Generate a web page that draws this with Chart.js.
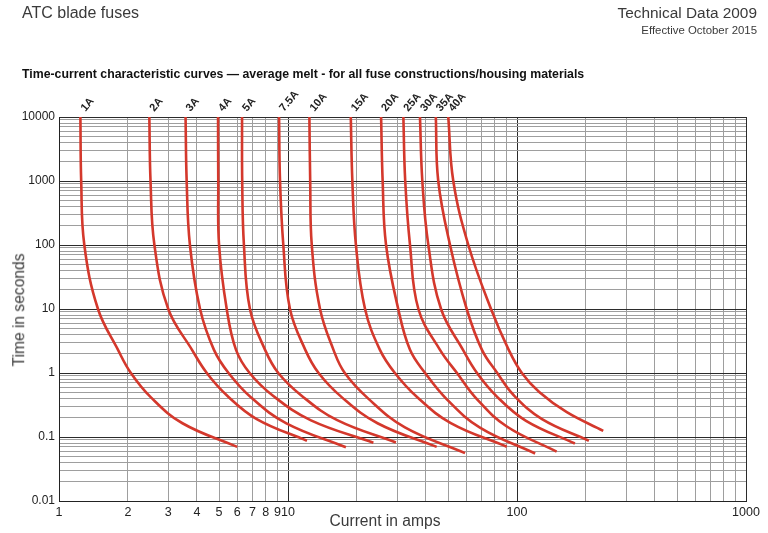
<!DOCTYPE html>
<html>
<head>
<meta charset="utf-8">
<title>ATC blade fuses - time-current curves</title>
<script src="https://cdn.jsdelivr.net/npm/chart.js@4.4.1/dist/chart.umd.min.js"></script>
<style>
  html, body { margin: 0; padding: 0; background: #fff; }
  #wrap { position: relative; width: 768px; height: 533px; overflow: hidden; }
  #chart { position: absolute; left: 0; top: 0; }
  .txt { position: absolute; white-space: nowrap; line-height: 1; color: #3a3a3a;
         font-family: "Liberation Sans", Arial, sans-serif; }
</style>
</head>
<body>
<div id="wrap">
  <canvas id="chart" width="768" height="533"></canvas>
  <div class="txt" style="left:22px; top:5px; font-size:16px;">ATC blade fuses</div>
  <div class="txt" style="right:11px; top:5px; font-size:15.4px;">Technical Data 2009</div>
  <div class="txt" style="right:11px; top:25px; font-size:11.4px;">Effective October 2015</div>
  <div class="txt" style="left:22px; top:68px; font-size:12.3px; font-weight:bold; color:#111;">Time-current characteristic curves — average melt - for all fuse constructions/housing materials</div>
  <div class="txt" style="left:385px; top:513px; font-size:15.6px; transform:translateX(-50%);">Current in amps</div>
  <div class="txt" style="left:19px; top:310px; font-size:15.6px; transform:translate(-50%,-50%) rotate(-90deg);">Time in seconds</div>
</div>
<script>
// fuse ratings, one curve each
const ratings = ["1A", "2A", "3A", "4A", "5A", "7.5A", "10A", "15A", "20A", "25A", "30A", "35A", "40A"];

// average melt current (A), one row per rating
const meltAmps = [
  [1.24, 1.25, 1.29, 1.48, 1.81, 2.06, 2.52, 3.46, 6.0],
  [2.48, 2.51, 2.61, 3.0, 3.81, 4.42, 5.4, 7.3, 12.1],
  [3.57, 3.61, 3.73, 4.13, 4.75, 5.5, 6.9, 9.84, 17.9],
  [4.95, 4.96, 5.0, 5.4, 5.93, 6.8, 8.63, 12.6, 23.6],
  [6.3, 6.31, 6.42, 6.82, 7.94, 9.07, 11.5, 16.4, 29.6],
  [9.14, 9.23, 9.54, 10.2, 11.9, 13.6, 17.2, 24.6, 44.6],
  [12.4, 12.5, 12.7, 13.8, 15.8, 17.7, 22.6, 32.4, 59.3],
  [18.8, 19.1, 19.8, 21.7, 25.2, 29.3, 36.7, 51.4, 90.2],
  [25.5, 25.9, 26.8, 30.3, 34.1, 39.7, 49.5, 68.9, 120],
  [31.9, 32.5, 34.1, 37.1, 46.1, 54.7, 66.8, 90.3, 149],
  [37.7, 38.6, 41.0, 46.6, 58.1, 66.9, 81.5, 109.5, 179],
  [44.2, 45.3, 51.0, 60.3, 70.3, 82, 96.8, 128.6, 206],
  [50.1, 52.7, 61.3, 77, 92, 105, 125, 165, 238]
];

// matching melt times (s)
const meltSecs = [
  [10000, 1000, 100, 10, 2.3, 1, 0.416, 0.164, 0.07],
  [10000, 1000, 100, 10, 2.3, 1, 0.449, 0.191, 0.0875],
  [10000, 1000, 100, 10, 2.3, 1, 0.414, 0.163, 0.069],
  [10000, 1000, 100, 10, 2.3, 1, 0.437, 0.182, 0.0815],
  [10000, 1000, 100, 10, 2.3, 1, 0.438, 0.183, 0.082],
  [10000, 1000, 100, 10, 2.3, 1, 0.416, 0.164, 0.07],
  [10000, 1000, 100, 10, 2.3, 1, 0.387, 0.141, 0.056],
  [10000, 1000, 100, 10, 2.3, 1, 0.417, 0.165, 0.0705],
  [10000, 1000, 100, 10, 2.3, 1, 0.384, 0.14, 0.0552],
  [10000, 1000, 100, 10, 2.3, 1, 0.392, 0.146, 0.059],
  [10000, 1000, 100, 10, 2.3, 1, 0.432, 0.179, 0.079],
  [10000, 1000, 100, 10, 2.3, 1, 0.449, 0.191, 0.0875],
  [10000, 1000, 100, 10, 2.3, 1, 0.505, 0.244, 0.125]
];

// labelled ticks
const xTickLabels = [1, 2, 3, 4, 5, 6, 7, 8, 9, 10, 100, 1000];
const yTickLabels = [0.01, 0.1, 1, 10, 100, 1000, 10000];

const fontFamily = '"Liberation Sans", Arial, sans-serif';

// 1..9 lines in every decade
function logGrid(min, max) {
  const vals = [];
  for (let d = min; d < max * 0.999; d *= 10) {
    for (let m = 1; m < 10; m++) vals.push(+(m * d).toPrecision(3));
  }
  vals.push(max);
  return vals;
}

function isDecade(v) {
  const l = Math.log10(v);
  return Math.abs(l - Math.round(l)) < 1e-6;
}

function gridColor(c) {
  return c.tick && isDecade(c.tick.value) ? "#2b2b2b" : "#9e9e9e";
}

const curveLabels = {
  id: "curveLabels",
  afterDatasetsDraw(chart) {
    const { ctx } = chart;
    const x = chart.scales.x;
    const top = chart.chartArea.top;
    ctx.save();
    ctx.font = "bold 11px " + fontFamily;
    ctx.fillStyle = "#222";
    ctx.textAlign = "left";
    ctx.textBaseline = "alphabetic";
    ratings.forEach((r, i) => {
      const px = x.getPixelForValue(meltAmps[i][0]);
      ctx.save();
      ctx.translate(px + 5, top - 5);
      ctx.rotate(-50 * Math.PI / 180);
      ctx.fillText(r, 0, 0);
      ctx.restore();
    });
    ctx.restore();
  }
};

new Chart(document.getElementById("chart"), {
  type: "line",
  data: {
    datasets: ratings.map((r, i) => ({
      label: r,
      data: meltAmps[i].map((a, j) => ({ x: a, y: meltSecs[i][j] })),
      borderColor: "#d4382c",
      borderWidth: 2.6,
      pointRadius: 0,
      fill: false,
      tension: 0.4
    }))
  },
  options: {
    responsive: false,
    animation: false,
    devicePixelRatio: 1,
    layout: { padding: { left: 0, top: 117, right: 22, bottom: 0 } },
    plugins: { legend: { display: false }, tooltip: { enabled: false }, title: { display: false } },
    scales: {
      x: {
        type: "logarithmic",
        min: 1,
        max: 1000,
        afterBuildTicks: (s) => { s.ticks = logGrid(1, 1000).map((v) => ({ value: v })); },
        afterFit: (s) => { s.height = 32; },
        border: { color: "#222", width: 1 },
        grid: { color: gridColor, lineWidth: 1, drawTicks: false },
        ticks: {
          autoSkip: false,
          maxRotation: 0,
          padding: 4,
          color: "#222",
          font: { family: fontFamily, size: 12.5 },
          callback: (v) => (xTickLabels.includes(v) ? String(v) : "")
        }
      },
      y: {
        type: "logarithmic",
        min: 0.01,
        max: 10000,
        afterBuildTicks: (s) => { s.ticks = logGrid(0.01, 10000).map((v) => ({ value: v })); },
        afterFit: (s) => { s.width = 59; },
        border: { color: "#222", width: 1 },
        grid: { color: gridColor, lineWidth: 1, drawTicks: false },
        ticks: {
          autoSkip: false,
          padding: 4,
          color: "#222",
          font: { family: fontFamily, size: 12 },
          callback: (v) => {
            const hit = yTickLabels.find((l) => Math.abs(l - v) / l < 1e-6);
            return hit !== undefined ? String(hit) : "";
          }
        }
      }
    }
  },
  plugins: [curveLabels]
});
</script>
</body>
</html>
